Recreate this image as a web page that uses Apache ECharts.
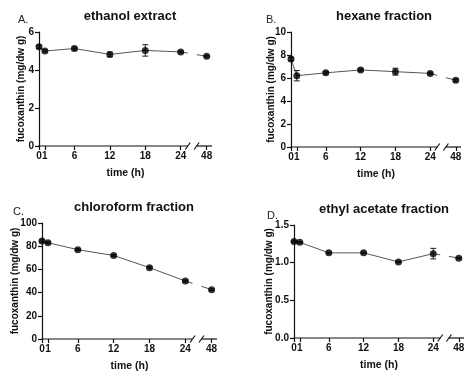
<!DOCTYPE html>
<html><head><meta charset="utf-8">
<script src="https://cdn.jsdelivr.net/npm/echarts@6/dist/echarts.min.js"></script>
<style>html,body{margin:0;padding:0;background:#fff}#c{width:474px;height:374px}</style>
</head><body><div id="c"></div>
<script>
const times = [0, 1, 6, 12, 18, 24, 48];
const timeLabels = ['0', '1', '6', '12', '18', '24', '48'];
const panelLetters = ['A.', 'B.', 'C.', 'D.'];
const panelTitles = ['ethanol extract', 'hexane fraction', 'chloroform fraction', 'ethyl acetate fraction'];
const ethanol = [5.22, 5.0, 5.13, 4.82, 5.03, 4.95, 4.72];
const ethanolErr = [0.08, 0.05, 0.08, 0.12, 0.3, 0.05, 0.04];
const hexane = [7.65, 6.2, 6.45, 6.7, 6.55, 6.4, 5.8];
const hexaneErr = [0.15, 0.45, 0.1, 0.1, 0.3, 0.1, 0.1];
const chloroform = [84.5, 83, 77, 72, 61.5, 50, 42.5];
const chloroformErr = [1, 0.8, 0.8, 0.8, 0.8, 0.8, 0.8];
const ethylAcetate = [1.28, 1.27, 1.13, 1.13, 1.01, 1.12, 1.06];
const ethylAcetateErr = [0.01, 0.01, 0.01, 0.01, 0.01, 0.07, 0.01];
const yMax = [6, 10, 100, 1.5];
const yInterval = [2, 2, 20, 0.5];

// broken x axis: 0..24 shown linearly, then a break, then 48
const BREAK_A = 25.2, BREAK_B = 26.7, POS48 = 28.4, XMAX = 29.3;
const disp = t => (t > 24 ? POS48 : t);

const series = [ethanol, hexane, chloroform, ethylAcetate];
const errs = [ethanolErr, hexaneErr, chloroformErr, ethylAcetateErr];
const grids = [
  {left: 39, top: 32, width: 173, height: 114},
  {left: 291, top: 32, width: 170, height: 115},
  {left: 42, top: 223, width: 175, height: 116},
  {left: 294, top: 225, width: 170, height: 113}
];
const letterPos = [[13, 9], [261, 9], [8, 201], [262, 205]];
const titlePos = [[125, 5], [379, 5], [129, 196], [379, 198]];
const yNameGap = [13, 15, 22, 20];
const FONT = "'Liberation Sans', Arial, sans-serif";

const option = {
  animation: false,
  textStyle: {fontFamily: FONT},
  title: [],
  grid: grids,
  xAxis: [], yAxis: [], series: []
};

for (let i = 0; i < 4; i++) {
  option.title.push({text: panelLetters[i], left: letterPos[i][0], top: letterPos[i][1],
    textStyle: {fontSize: 11, fontWeight: 'normal', color: '#222', fontFamily: FONT}});
  option.title.push({text: panelTitles[i], left: titlePos[i][0], top: titlePos[i][1], textAlign: 'center',
    textStyle: {fontSize: 13, fontWeight: 'bold', color: '#111', fontFamily: FONT}});
  const dispTimes = times.map(disp);
  option.xAxis.push({
    type: 'value', gridIndex: i, min: 0, max: XMAX,
    name: 'time (h)', nameLocation: 'middle', nameGap: 22, nameMoveOverlap: false,
    nameTextStyle: {fontSize: 10.5, fontWeight: 'bold', color: '#111', fontFamily: FONT},
    axisLine: {show: false},
    splitLine: {show: false},
    axisTick: {show: true, length: 4, customValues: dispTimes, lineStyle: {color: '#111', width: 1.2}},
    axisLabel: {customValues: dispTimes, margin: 5, fontSize: 10, fontWeight: 'bold', color: '#111',
      formatter: v => timeLabels[dispTimes.indexOf(v)] ?? ''}
  });
  option.yAxis.push({
    type: 'value', gridIndex: i, min: 0, max: yMax[i], interval: yInterval[i],
    name: 'fucoxanthin (mg/dw g)', nameLocation: 'middle', nameGap: yNameGap[i], nameMoveOverlap: false,
    nameTextStyle: {fontSize: 10, fontWeight: 'bold', color: '#111', fontFamily: FONT},
    axisLine: {show: true, lineStyle: {color: '#111', width: 1.2}},
    axisTick: {show: true, length: 4, lineStyle: {color: '#111', width: 1.2}},
    splitLine: {show: false},
    axisLabel: {margin: 5, fontSize: 10, fontWeight: 'bold', color: '#111',
      formatter: v => i === 3 ? v.toFixed(1) : String(v)}
  });
  const vals = series[i], er = errs[i];
  const pts = times.map((t, k) => [disp(t), vals[k]]);
  // solid line 0..24
  option.series.push({
    type: 'line', xAxisIndex: i, yAxisIndex: i, data: pts.slice(0, 6),
    symbol: 'none', lineStyle: {color: '#555', width: 1}, z: 2
  });
  // broken segment 24 -> 48
  option.series.push({
    type: 'custom', xAxisIndex: i, yAxisIndex: i, data: [[0]], z: 2, silent: true,
    renderItem: (params, api) => {
      const [x0, y0] = pts[5], [x1, y1] = pts[6];
      const yAt = x => y0 + (y1 - y0) * (x - x0) / (x1 - x0);
      const a = api.coord([x0, y0]), b = api.coord([BREAK_A, yAt(BREAK_A)]);
      const c = api.coord([BREAK_B, yAt(BREAK_B)]), d = api.coord([x1, y1]);
      const st = {stroke: '#555', lineWidth: 1};
      return {type: 'group', children: [
        {type: 'line', shape: {x1: a[0], y1: a[1], x2: b[0], y2: b[1]}, style: st},
        {type: 'line', shape: {x1: c[0], y1: c[1], x2: d[0], y2: d[1]}, style: st}
      ]};
    }
  });
  // x axis line with break marks
  option.series.push({
    type: 'custom', xAxisIndex: i, yAxisIndex: i, data: [[0]], z: 5, silent: true, clip: false,
    renderItem: (params, api) => {
      const o = api.coord([0, 0]), a = api.coord([BREAK_A, 0]), b = api.coord([BREAK_B, 0]), e = api.coord([XMAX, 0]);
      const st = {stroke: '#111', lineWidth: 1.2};
      return {type: 'group', children: [
        {type: 'line', shape: {x1: o[0] - 0.6, y1: o[1], x2: a[0], y2: a[1]}, style: st},
        {type: 'line', shape: {x1: b[0], y1: b[1], x2: e[0], y2: e[1]}, style: st},
        {type: 'line', shape: {x1: a[0] - 2.5, y1: a[1] + 3.5, x2: a[0] + 2.5, y2: a[1] - 3.5}, style: st},
        {type: 'line', shape: {x1: b[0] - 2.5, y1: b[1] + 3.5, x2: b[0] + 2.5, y2: b[1] - 3.5}, style: st}
      ]};
    }
  });
  // error bars
  option.series.push({
    type: 'custom', xAxisIndex: i, yAxisIndex: i, z: 3, silent: true, clip: false,
    data: times.map((t, k) => [disp(t), vals[k] - er[k], vals[k] + er[k]]),
    renderItem: (params, api) => {
      const lo = api.coord([api.value(0), api.value(1)]), hi = api.coord([api.value(0), api.value(2)]);
      const st = {stroke: '#222', lineWidth: 1};
      return {type: 'group', children: [
        {type: 'line', shape: {x1: lo[0], y1: lo[1], x2: hi[0], y2: hi[1]}, style: st},
        {type: 'line', shape: {x1: lo[0] - 3, y1: lo[1], x2: lo[0] + 3, y2: lo[1]}, style: st},
        {type: 'line', shape: {x1: hi[0] - 3, y1: hi[1], x2: hi[0] + 3, y2: hi[1]}, style: st}
      ]};
    }
  });
  // points
  option.series.push({
    type: 'scatter', xAxisIndex: i, yAxisIndex: i, data: pts, symbol: 'circle', symbolSize: 7,
    itemStyle: {color: '#000'}, z: 4, clip: false
  });
}

const chart = echarts.init(document.getElementById('c'), null, {renderer: 'canvas'});
chart.setOption(option);
</script>
</body></html>
